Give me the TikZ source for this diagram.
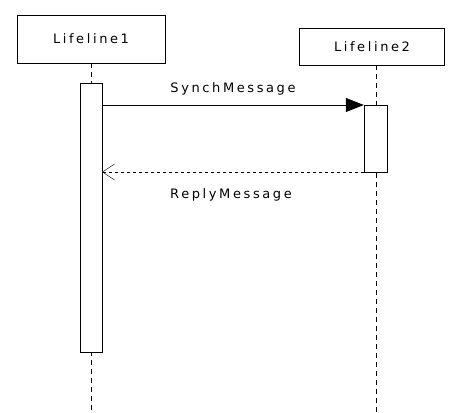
\documentclass[tikz,border=0pt]{standalone}
\usepackage{fontspec}
\setmainfont{DejaVu Sans}[LetterSpace=20]
\usetikzlibrary{arrows.meta}
\begin{document}
\begin{tikzpicture}[x=1pt,y=-1pt,
  box/.style={draw,thick,fill=white,inner sep=0pt,font=\fontsize{13}{15}\selectfont},
  act/.style={draw,fill=white,inner sep=0pt},
  life/.style={dash pattern=on 5pt off 4pt},
  lbl/.style={font=\fontsize{13}{15}\selectfont}]
\useasboundingbox (0,0) rectangle (465,412);
\node[box,minimum width=148pt,minimum height=48pt] (l1) at (91,39) {Lifeline1};
\node[box,minimum width=145pt,minimum height=37pt] (l2) at (372,46.5) {Lifeline2};
\coordinate (e1) at (91,412);
\coordinate (e2) at (376,412);
\draw[life] (l1.south) -- (e1);
\draw[life] (376,65) -- (e2);
\node[act,minimum width=22pt,minimum height=269pt] (a1) at (91,217.5) {};
\node[act,minimum width=23pt,minimum height=67pt] (a2) at (375.5,138.5) {};
\draw[thick,-{Triangle[length=18pt,width=14pt]}] (a1.east |- 0,105) -- (a2.west |- 0,105);
\draw[dashed,-{Straight Barb[length=12pt,width=16pt]}] (a2.west |- 0,172) -- (a1.east |- 0,172);
\node[lbl] (m1) at (233,89) {SynchMessage};
\node[lbl] (m2) at (231,195) {ReplyMessage};
\end{tikzpicture}
\end{document}
